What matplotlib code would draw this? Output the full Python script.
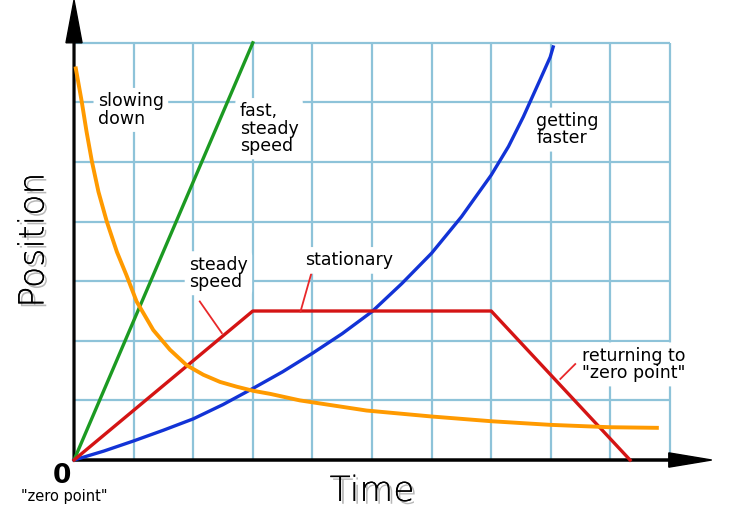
import matplotlib.pyplot as plt
import matplotlib.patheffects as pe

# positions (grid units: time 0-10, position 0-7)
fast_t = [0, 3]
fast_pos = [0, 7]

steady_t = [0, 3, 7, 9.33]
steady_pos = [0, 2.5, 2.5, 0]

faster_t = [0, 0.5, 1, 1.5, 2, 2.5, 3, 3.5, 4, 4.5, 5, 5.5, 6, 6.5, 7, 7.29, 7.54, 7.82, 7.99, 8.04]
faster_pos = [0, 0.15, 0.32, 0.5, 0.69, 0.93, 1.2, 1.48, 1.79, 2.12, 2.49, 2.96, 3.47, 4.08, 4.78,
              5.26, 5.76, 6.38, 6.76, 6.93]

slowing_t = [0.03, 0.13, 0.21, 0.30, 0.41, 0.55, 0.72, 0.88, 1.05, 1.33, 1.61, 1.89, 2.17, 2.45,
             2.73, 3.01, 3.29, 3.79, 4.91, 6.0, 7.01, 7.99, 8.99, 9.78]
slowing_pos = [6.57, 6.01, 5.51, 5.01, 4.50, 4.00, 3.49, 3.10, 2.66, 2.18, 1.85, 1.59, 1.43, 1.31,
               1.23, 1.16, 1.11, 1.0, 0.83, 0.73, 0.65, 0.59, 0.55, 0.54]

n_cols = 10
n_rows = 7

fig = plt.figure(figsize=(7.34, 5.18), dpi=100)
ax = fig.add_axes([0, 0, 1, 1])
ax.set_xlim(-1.242, 11.074)
ax.set_ylim(-0.973, 7.718)
ax.axis("off")

# grid
grid_col = "#8ec3d9"
ax.vlines(range(1, n_cols + 1), 0, n_rows, color=grid_col, lw=1.6, zorder=1)
ax.hlines(range(1, n_rows + 1), 0, n_cols, color=grid_col, lw=1.6, zorder=1)

# axes with arrows
ax.arrow(0, 0, 0, 7.72, width=0.03, head_width=0.27, head_length=0.72,
         length_includes_head=True, color="black", zorder=2)
ax.arrow(0, 0, 10.7, 0, width=0.035, head_width=0.24, head_length=0.72,
         length_includes_head=True, color="black", zorder=2)

lw = 2.4
ax.plot(fast_t, fast_pos, color="#1c9a22", lw=lw, zorder=4)
ax.plot(faster_t, faster_pos, color="#1233d6", lw=lw, zorder=4, solid_joinstyle="round")
ax.plot(steady_t, steady_pos, color="#d41414", lw=lw, zorder=5)
ax.plot(slowing_t, slowing_pos, color="#ff9a00", lw=lw + 0.4, zorder=6, solid_joinstyle="round")

# pointer lines for the red graph
ax.plot([2.11, 2.48], [2.66, 2.13], color="#e8282a", lw=1.3, zorder=5)
ax.plot([3.99, 3.80], [3.16, 2.49], color="#e8282a", lw=1.3, zorder=5)
ax.plot([8.41, 8.16], [1.61, 1.36], color="#e8282a", lw=1.3, zorder=5)

box = dict(boxstyle="round,pad=0.25", fc="white", ec="none")
lab = dict(fontsize=12.5, color="black", linespacing=0.95, zorder=7, bbox=box)
ax.text(0.40, 6.17, "slowing\ndown", va="top", ha="left", **lab)
ax.text(2.78, 6.0, "fast,\nsteady\nspeed", va="top", ha="left", **lab)
ax.text(7.76, 5.84, "getting\nfaster", va="top", ha="left", **lab)
ax.text(1.93, 3.43, "steady\nspeed", va="top", ha="left", **lab)
ax.text(3.87, 3.5, "stationary", va="top", ha="left", **lab)
ax.text(8.52, 1.9, "returning to\n\"zero point\"", va="top", ha="left", **lab)

ax.text(-0.05, -0.05, "0", fontsize=19, fontweight="bold", ha="right", va="top")
ax.text(-0.16, -0.48, "\"zero point\"", fontsize=10.5, ha="center", va="top")

shadow = [pe.withSimplePatchShadow(offset=(2, -2), shadow_rgbFace="#888888", alpha=0.6), pe.Normal()]
ax.text(-0.68, 3.69, "Position", fontsize=25, rotation=90, ha="center", va="center",
        fontweight="light", path_effects=shadow)
ax.text(5.0, -0.52, "Time", fontsize=25, ha="center", va="center",
        fontweight="light", path_effects=shadow)

fig.savefig("out.png", dpi=100)
